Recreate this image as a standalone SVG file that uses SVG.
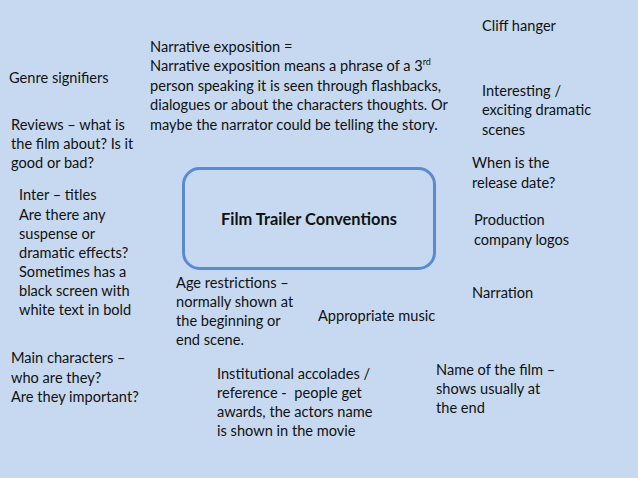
<svg xmlns="http://www.w3.org/2000/svg" width="638" height="478" viewBox="0 0 638 478">
<style>
text{font-family:Lato,"Open Sans","Liberation Sans",sans-serif;font-size:14.6px;fill:#111}
.b{font-weight:bold;font-size:16.4px}
</style>
<rect width="638" height="478" fill="#c6d9f0"/>
<g id="connectors"></g>
<g id="center">
<rect x="183.5" y="168.5" width="251" height="100" rx="16" fill="#c6d9f0" stroke="#5a8bd0" stroke-width="3"/>
<text class="b" x="309" y="225" text-anchor="middle">Film Trailer Conventions</text>
</g>
<g id="cliff"><text x="482" y="31">Cliff hanger</text></g>
<g id="narrative">
<text x="150" y="52">Narrative exposition =</text>
<text x="150" y="71">Narrative exposition means a phrase of a 3<tspan font-size="9" dy="-6">rd</tspan></text>
<text x="150" y="91">person speaking it is seen through flashbacks,</text>
<text x="150" y="110">dialogues or about the characters thoughts. Or</text>
<text x="150" y="130">maybe the narrator could be telling the story.</text>
</g>
<g id="genre"><text x="9" y="83">Genre signifiers</text></g>
<g id="reviews">
<text x="11" y="130">Reviews – what is</text>
<text x="11" y="149">the film about? Is it</text>
<text x="11" y="168">good or bad?</text>
</g>
<g id="inter">
<text x="19" y="200">Inter – titles</text>
<text x="19" y="220">Are there any</text>
<text x="19" y="239">suspense or</text>
<text x="19" y="258">dramatic effects?</text>
<text x="19" y="277">Sometimes has a</text>
<text x="19" y="296">black screen with</text>
<text x="19" y="315">white text in bold</text>
</g>
<g id="interesting">
<text x="482" y="96">Interesting /</text>
<text x="482" y="115">exciting dramatic</text>
<text x="482" y="135">scenes</text>
</g>
<g id="release">
<text x="472" y="168">When is the</text>
<text x="472" y="188">release date?</text>
</g>
<g id="production">
<text x="474" y="225">Production</text>
<text x="474" y="245">company logos</text>
</g>
<g id="narration"><text x="472" y="298">Narration</text></g>
<g id="age">
<text x="176" y="288">Age restrictions –</text>
<text x="176" y="307">normally shown at</text>
<text x="176" y="326">the beginning or</text>
<text x="176" y="345">end scene.</text>
</g>
<g id="music"><text x="318" y="321">Appropriate music</text></g>
<g id="characters">
<text x="11" y="363">Main characters –</text>
<text x="11" y="383">who are they?</text>
<text x="11" y="402">Are they important?</text>
</g>
<g id="accolades">
<text x="217" y="379">Institutional accolades /</text>
<text x="217" y="398" xml:space="preserve">reference -  people get</text>
<text x="217" y="417">awards, the actors name</text>
<text x="217" y="436">is shown in the movie</text>
</g>
<g id="name">
<text x="436" y="375">Name of the film –</text>
<text x="436" y="394">shows usually at</text>
<text x="436" y="413">the end</text>
</g>
</svg>
